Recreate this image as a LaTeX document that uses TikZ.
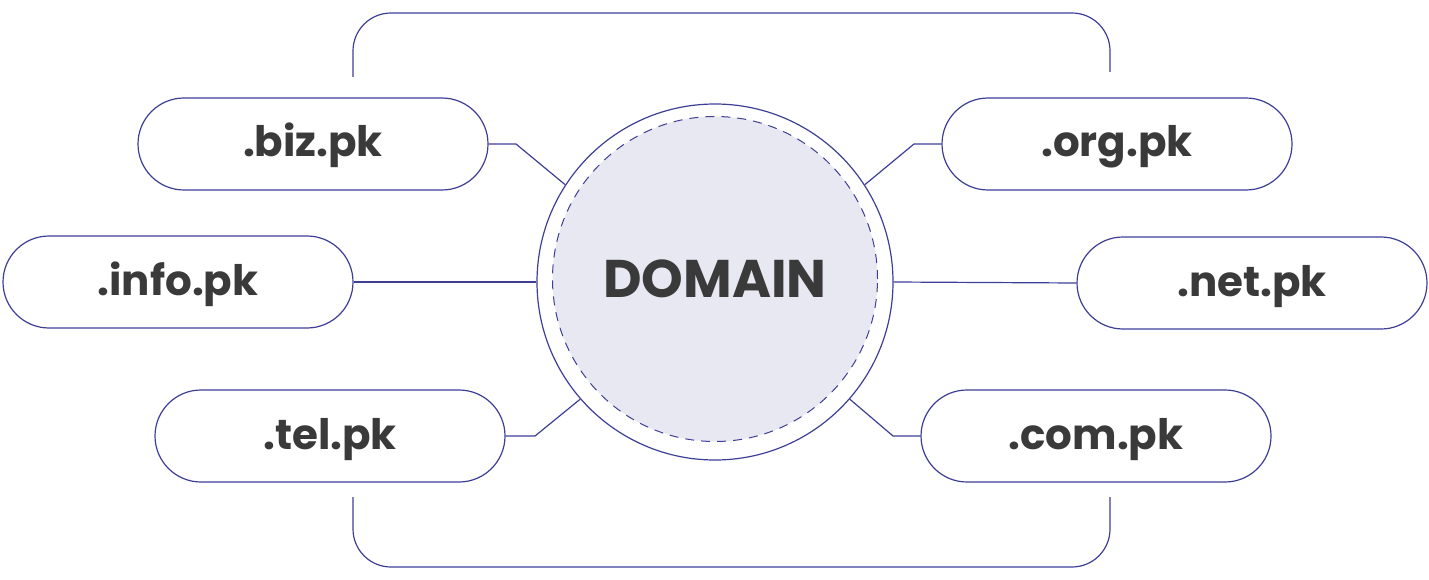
\documentclass[tikz,border=0pt]{standalone}
\usepackage{fontspec}
\setmainfont{Poppins}
\usetikzlibrary{positioning}
\definecolor{navy}{RGB}{62,62,150}
\definecolor{ink}{RGB}{58,58,58}
\definecolor{lilac}{RGB}{232,232,243}
\tikzset{%
   pill/.style={draw=navy, line width=1.2pt, rounded corners=46pt, minimum width=350pt, minimum height=92pt,
      inner sep=0pt, text height=32pt, text depth=6pt, text=ink, font=\fontsize{42}{44}\selectfont\bfseries},
   link/.style={draw=navy, line width=1.2pt},
}
\begin{document}
\begin{tikzpicture}[x=1pt, y=-1pt]
      \useasboundingbox (0,0) rectangle (1429,580);
      % centre
      \node[circle, draw=navy, line width=1.2pt, minimum size=356pt, inner sep=0pt] (dom) at (715,282) {};
      \node[circle, draw=navy, dash pattern=on 9pt off 7pt, fill=lilac, line width=1pt, minimum size=325pt, inner sep=0pt,
         text=ink, font=\fontsize{53}{55}\selectfont\bfseries] (core) at (715,279) {DOMAIN};
      % left side
      \node[pill] (biz) at (313,144) {.biz.pk};
      \node[pill] (info) at (178,282) {.info.pk};
      \node[pill] (tel) at (330,436) {.tel.pk};
      % right side
      \node[pill] (org) at (1117,144) {.org.pk};
      \node[pill] (net) at (1252,283) {.net.pk};
      \node[pill] (com) at (1096,436) {.com.pk};
      \coordinate (bizk) at (516,144);
      \coordinate (orgk) at (914,144);
      \coordinate (telk) at (535,436);
      \coordinate (comk) at (893,436);
      \draw[link] (biz.east) -- (bizk) -- (dom.147);
      \draw[link] (org.west) -- (orgk) -- (dom.33);
      \draw[link] (info.east) -- (dom.west);
      \draw[link] (net.west) -- (dom.east);
      \draw[link] (tel.east) -- (telk) -- (dom.221);
      \draw[link] (com.west) -- (comk) -- (dom.319);
      % brackets
      \coordinate (tl) at (353,77);
      \coordinate (tr) at (1110,72);
      \coordinate (bl) at (353,497);
      \coordinate (br) at (1110,497);
      \draw[link, rounded corners=38pt] (tl) -- (353,13) -- (1110,13) -- (tr);
      \draw[link, rounded corners=38pt] (bl) -- (353,567) -- (1110,567) -- (br);
\end{tikzpicture}
\end{document}
